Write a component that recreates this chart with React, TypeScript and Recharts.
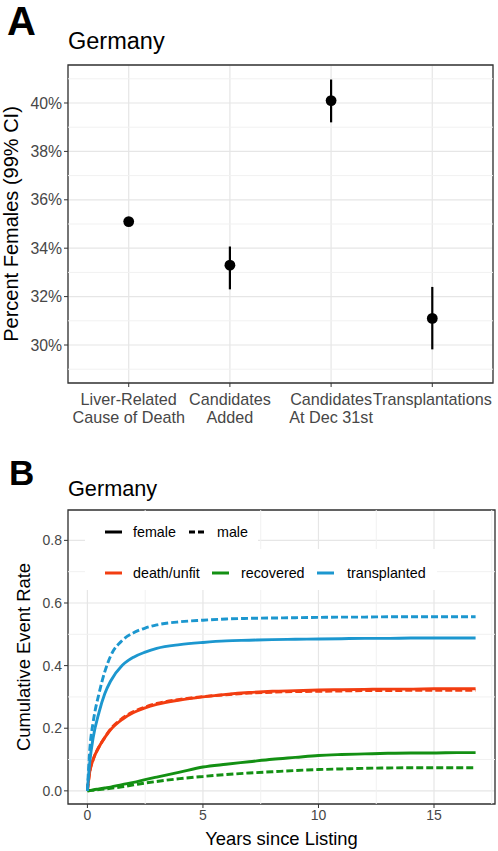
import React from 'react';
import {
  ScatterChart, Scatter, ErrorBar, LineChart, Line, XAxis, YAxis,
  CartesianGrid, ReferenceLine, ReferenceArea
} from 'recharts';

const FONT = '"Liberation Sans", Arial, sans-serif';

// panel A: percent females per stage (99% CI)
const stages = ['Liver-Related\nCause of Death', 'Candidates\nAdded', 'Candidates\nAt Dec 31st', 'Transplantations'];
const pctFemale = [35.1, 33.3, 40.1, 31.1];
const ciLower = [34.95, 32.3, 39.2, 29.82];
const ciUpper = [35.25, 34.07, 40.97, 32.4];
const pctTicks = [30, 32, 34, 36, 38, 40];
const pctMinor = [29, 31, 33, 35, 37, 39, 41];

// panel B: cumulative event rate by sex
const years = [0, 0.1, 0.25, 0.5, 0.75, 1, 1.5, 2, 2.5, 3, 4, 5, 6, 7, 8, 9, 10, 11, 12, 13, 14, 15, 16, 16.8];
const transplantedFemale = [0, 0.09, 0.17, 0.25, 0.31, 0.35, 0.4, 0.427, 0.443, 0.455, 0.467, 0.474, 0.479, 0.481, 0.483, 0.484, 0.485, 0.486, 0.487, 0.487, 0.488, 0.488, 0.488, 0.488];
const transplantedMale = [0, 0.13, 0.22, 0.31, 0.38, 0.43, 0.48, 0.505, 0.52, 0.53, 0.54, 0.545, 0.549, 0.551, 0.552, 0.553, 0.554, 0.555, 0.555, 0.556, 0.556, 0.556, 0.556, 0.556];
const deathFemale = [0, 0.06, 0.1, 0.14, 0.17, 0.195, 0.228, 0.25, 0.265, 0.276, 0.29, 0.3, 0.308, 0.314, 0.318, 0.32, 0.322, 0.323, 0.324, 0.325, 0.325, 0.326, 0.326, 0.326];
const deathMale = [0, 0.06, 0.1, 0.14, 0.17, 0.197, 0.231, 0.253, 0.268, 0.279, 0.292, 0.301, 0.307, 0.312, 0.315, 0.317, 0.318, 0.319, 0.32, 0.32, 0.321, 0.321, 0.321, 0.321];
const recoveredFemale = [0, 0.001, 0.003, 0.006, 0.009, 0.012, 0.02, 0.027, 0.036, 0.044, 0.06, 0.076, 0.085, 0.093, 0.101, 0.107, 0.113, 0.116, 0.118, 0.12, 0.121, 0.121, 0.122, 0.122];
const recoveredMale = [0, 0.001, 0.002, 0.004, 0.006, 0.008, 0.013, 0.019, 0.025, 0.03, 0.039, 0.046, 0.052, 0.057, 0.061, 0.065, 0.068, 0.07, 0.072, 0.073, 0.074, 0.074, 0.074, 0.074];
const rateTicks = [0, 0.2, 0.4, 0.6, 0.8];
const rateMinor = [0.1, 0.3, 0.5, 0.7];
const yearTicks = [0, 5, 10, 15];
const yearMinor = [2.5, 7.5, 12.5, 17.5];

const RED = '#F23D11';
const GREEN = '#139013';
const BLUE = '#1C97CF';
const MAJOR = '#e6e6e6';
const MINOR = '#f1f1f1';
const TICK = '#474747';
const DASH = '7 3';

const pointData = stages.map((s, i) => ({
  x: i + 1,
  y: pctFemale[i],
  ci: [pctFemale[i] - ciLower[i], ciUpper[i] - pctFemale[i]],
}));

const curveData = years.map((t, i) => ({
  year: t,
  tf: transplantedFemale[i],
  tm: transplantedMale[i],
  df: deathFemale[i],
  dm: deathMale[i],
  rf: recoveredFemale[i],
  rm: recoveredMale[i],
}));

const StageTick = (props: any) => {
  const { x, y, payload } = props;
  const lines = stages[payload.value - 1].split('\n');
  return (
    <text x={x} y={y} textAnchor="middle" fill={TICK} fontSize={16.2} fontFamily={FONT}>
      {lines.map((l, i) => (
        <tspan key={i} x={x} dy={i === 0 ? 16 : 18}>{l}</tspan>
      ))}
    </text>
  );
};

const Dot = (props: any) => <circle cx={props.cx} cy={props.cy} r={5.4} fill="#000" />;

function PanelA() {
  return (
    <ScatterChart width={498} height={430} margin={{ top: 65, right: 5, bottom: 0, left: 0 }}>
      {pctMinor.map(v => (
        <ReferenceLine key={v} y={v} stroke={MINOR} strokeWidth={1} />
      ))}
      <CartesianGrid stroke={MAJOR} strokeWidth={1.2} />
      <XAxis dataKey="x" type="number" domain={[0.4, 4.6]} ticks={[1, 2, 3, 4]} allowDataOverflow
        height={47} axisLine={false} tickSize={4} tickLine={{ stroke: '#333' }} tick={<StageTick />} interval={0} />
      <YAxis dataKey="y" type="number" domain={[28.43, 41.57]} ticks={pctTicks} allowDataOverflow
        width={68} axisLine={false} tickSize={4} tickLine={{ stroke: '#333' }} tickFormatter={v => `${v}%`}
        tick={{ fill: TICK, fontSize: 15.8, fontFamily: FONT }} />
      <ReferenceArea x1={0.4} x2={4.6} y1={28.43} y2={41.57} fill="none" stroke="#333" strokeWidth={1.3} ifOverflow="visible" />
      <Scatter data={pointData} shape={<Dot />} isAnimationActive={false}>
        <ErrorBar dataKey="ci" direction="y" width={0} stroke="#000" strokeWidth={2.2} isAnimationActive={false} />
      </Scatter>
    </ScatterChart>
  );
}

const series = [
  { key: 'df', color: RED, dash: undefined },
  { key: 'dm', color: RED, dash: DASH },
  { key: 'rf', color: GREEN, dash: undefined },
  { key: 'rm', color: GREEN, dash: DASH },
  { key: 'tf', color: BLUE, dash: undefined },
  { key: 'tm', color: BLUE, dash: DASH },
];

function PanelB() {
  return (
    <LineChart width={498} height={421} data={curveData} margin={{ top: 80, right: 3, bottom: 0, left: 0 }}>
      {rateMinor.map(v => (
        <ReferenceLine key={'y' + v} y={v} stroke={MINOR} strokeWidth={1} />
      ))}
      {yearMinor.map(v => (
        <ReferenceLine key={'x' + v} x={v} stroke={MINOR} strokeWidth={1} />
      ))}
      <CartesianGrid stroke={MAJOR} strokeWidth={1.2} />
      <XAxis dataKey="year" type="number" domain={[-0.84, 17.64]} ticks={yearTicks} allowDataOverflow
        height={47} axisLine={false} tickSize={4} tickLine={{ stroke: '#333' }}
        tick={{ fill: TICK, fontSize: 14, fontFamily: FONT }} />
      <YAxis type="number" domain={[-0.042, 0.897]} ticks={rateTicks} allowDataOverflow
        width={68} axisLine={false} tickSize={4} tickLine={{ stroke: '#333' }} tickFormatter={v => v.toFixed(1)}
        tick={{ fill: TICK, fontSize: 14, fontFamily: FONT }} />
      <ReferenceArea x1={-0.84} x2={17.64} y1={-0.042} y2={0.897} fill="none" stroke="#333" strokeWidth={1.3} ifOverflow="visible" />
      {series.map(s => (
        <Line key={s.key} dataKey={s.key} type="monotone" stroke={s.color} strokeWidth={2.9}
          strokeDasharray={s.dash} dot={false} activeDot={false} isAnimationActive={false} />
      ))}
    </LineChart>
  );
}

function Key({ x, y, color, dash }: { x: number; y: number; color: string; dash?: string }) {
  return <line x1={x} x2={x + 17} y1={y} y2={y} stroke={color} strokeWidth={3} strokeDasharray={dash} />;
}

function Overlay() {
  const t = { fontFamily: FONT, fill: '#000' };
  return (
    <svg width={498} height={851} style={{ position: 'absolute', left: 0, top: 0, pointerEvents: 'none' }}>
      <text x={7} y={35} fontSize={40} fontWeight="bold" {...t}>A</text>
      <text x={68} y={49} fontSize={23.5} {...t}>Germany</text>
      <text transform="translate(17.5,224) rotate(-90)" textAnchor="middle" fontSize={20} {...t}>Percent Females (99% CI)</text>

      <text x={9} y={485} fontSize={35} fontWeight="bold" {...t}>B</text>
      <text x={68} y={496} fontSize={21.7} {...t}>Germany</text>
      <text transform="translate(30,657) rotate(-90)" textAnchor="middle" fontSize={18.4} {...t}>Cumulative Event Rate</text>
      <text x={281.5} y={845} textAnchor="middle" fontSize={18.4} {...t}>Years since Listing</text>

      <rect x={85} y={511} width={173} height={38} fill="#fff" />
      <rect x={85} y={549} width={352} height={41} fill="#fff" />
      <Key x={105} y={532} color="#000" />
      <text x={133} y={537} fontSize={14.3} {...t}>female</text>
      <Key x={189} y={532} color="#000" dash="6 3" />
      <text x={217} y={537} fontSize={14.3} {...t}>male</text>
      <Key x={105} y={573} color={RED} />
      <text x={133} y={578} fontSize={14.3} {...t}>death/unfit</text>
      <Key x={212} y={573} color={GREEN} />
      <text x={241} y={578} fontSize={14.3} {...t}>recovered</text>
      <Key x={317} y={573} color={BLUE} />
      <text x={347} y={578} fontSize={14.3} {...t}>transplanted</text>
    </svg>
  );
}

export default function App() {
  return (
    <div style={{ position: 'absolute', left: 0, top: 0, width: 498, height: 851, background: '#fff' }}>
      <div style={{ position: 'absolute', left: 0, top: 0 }}>
        <PanelA />
      </div>
      <div style={{ position: 'absolute', left: 0, top: 430 }}>
        <PanelB />
      </div>
      <Overlay />
    </div>
  );
}
